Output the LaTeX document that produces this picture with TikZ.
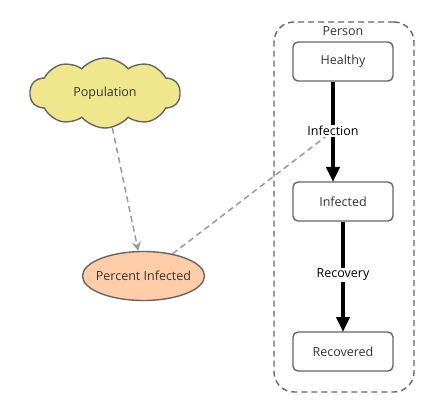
\documentclass[tikz,border=0pt]{standalone}
\usepackage{fontspec}
\setmainfont{Open Sans}
\usetikzlibrary{shapes.symbols,shapes.geometric,arrows.meta,backgrounds}
\definecolor{edgegray}{HTML}{666666}
\definecolor{txtgray}{HTML}{333333}
\definecolor{khaki}{HTML}{F0E68C}
\definecolor{peach}{HTML}{FFCDA8}
\definecolor{dashgray}{HTML}{9A9A9A}
\begin{document}
\begin{tikzpicture}[x=1pt,y=-1pt,
  every node/.style={font=\fontsize{12.5}{15}\selectfont, text=txtgray},
  statebox/.style={draw=edgegray, line width=1.4pt, rounded corners=5pt, fill=white, minimum width=100pt, minimum height=39pt, inner sep=0pt},
  flowarrow/.style={line width=4pt, draw=black, -{Triangle[length=15pt,width=13pt]}},
  flowlabel/.style={fill=white, text=black, inner sep=1.5pt},
  influence/.style={draw=dashgray, line width=1.5pt, dash pattern=on 6pt off 4pt},
  container/.style={draw=edgegray, line width=1.4pt, dash pattern=on 6pt off 4pt, rounded corners=20pt}
]
\useasboundingbox (0,0) rectangle (436,414);
\node[container, minimum width=140pt, minimum height=370pt, inner sep=0pt] (person) at (344,207) {};
\node (personlbl) at (343,31) {Person};
\node[statebox] (healthy) at (343,61.5) {Healthy};
\node[statebox] (infected) at (343,201.5) {Infected};
\node[statebox] (recovered) at (343,351.5) {Recovered};
\coordinate (hs) at (333,82);
\coordinate (ie) at (333,182);
\coordinate (is) at (343,222);
\coordinate (re) at (343,332);
\draw[flowarrow] (hs) -- (ie);
\draw[flowarrow] (is) -- (re);
\node[cloud, cloud puffs=10, cloud puff arc=100, aspect=2.3, draw=edgegray, line width=1.4pt, fill=khaki, minimum width=150pt, minimum height=70pt, inner sep=0pt] (pop) at (105,93) {Population};
\node[ellipse, draw=edgegray, line width=1.4pt, fill=peach, minimum width=122pt, minimum height=49pt, inner xsep=-10pt, inner ysep=0pt] (pct) at (143.5,276) {Percent Infected};
\node[flowlabel] (infection) at (333,131) {Infection};
\node[flowlabel] (recovery) at (343,275) {Recovery};
\draw[influence, -{Stealth[length=9pt,width=9pt,inset=3pt]}] (pop) -- (pct);
\begin{scope}[on background layer]
\draw[influence] (pct) -- (infection.center);
\end{scope}
\end{tikzpicture}
\end{document}
